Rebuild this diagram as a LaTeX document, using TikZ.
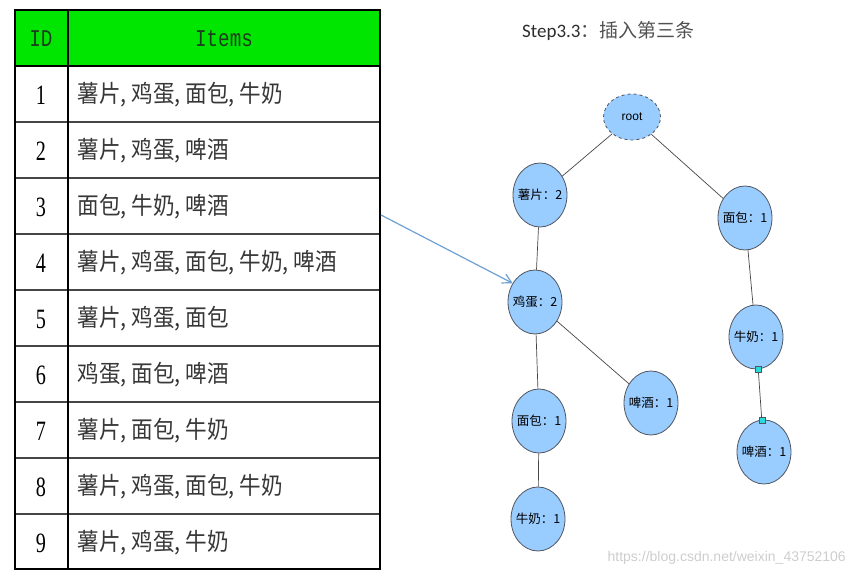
\documentclass[tikz,border=0pt]{standalone}
\usepackage{fontspec}
\usetikzlibrary{shapes.geometric,arrows.meta}
\setmainfont{Liberation Serif}
\newfontfamily\cjk{Noto Sans CJK SC}
\newfontfamily\cjktab[FakeStretch=0.9]{Noto Sans CJK SC}
\newfontfamily\numfont[FakeStretch=0.72]{Liberation Serif}
\newfontfamily\hdrfont[FakeStretch=0.8]{Liberation Mono}
\newfontfamily\titlefont{Carlito}
\newfontfamily\wmfont{Liberation Sans}
\definecolor{hdrgreen}{RGB}{0,230,0}
\definecolor{nodeblue}{RGB}{153,204,255}
\definecolor{nodeedge}{RGB}{80,85,95}
\definecolor{arrowblue}{RGB}{110,160,210}
\definecolor{sqcyan}{RGB}{40,220,220}
\definecolor{rowline}{RGB}{70,70,70}
\definecolor{itemgray}{RGB}{55,55,55}
\tikzset{
  tnode/.style={ellipse, draw=nodeedge, line width=0.8pt, fill=nodeblue,
    minimum width=54pt, minimum height=64pt, inner sep=0pt,
    font=\fontsize{12.5}{14}\cjk},
  rootnode/.style={tnode, dashed, minimum width=57pt, minimum height=46pt,
    font=\fontsize{12}{14}\selectfont\wmfont},
  tedge/.style={draw=rowline, line width=0.7pt},
  sq/.style={rectangle, draw=nodeedge, fill=sqcyan, minimum size=6pt, inner sep=0pt, line width=0.4pt},
  idtxt/.style={font=\fontsize{28}{30}\numfont, anchor=center},
  itemtxt/.style={font=\fontsize{24}{28}\cjktab, anchor=west, text=itemgray},
}
\newcommand{\lab}[1]{\makebox[0pt]{#1}}
\begin{document}
\begin{tikzpicture}[x=1pt,y=-1pt]
\useasboundingbox (0,0) rectangle (855,577);
% table
\fill[hdrgreen] (15,10) rectangle (380,66);
\foreach \yy in {122,178,234,290,346,402,458,514} {
  \draw[rowline, line width=1.6pt] (15,\yy) -- (380,\yy);
}
\draw[black, line width=1.8pt] (15,66) -- (380,66);
\draw[black, line width=1.8pt] (68,10) -- (68,569);
\draw[black, line width=1.8pt] (15,10) rectangle (380,569);
\node[font=\fontsize{24}{26}\hdrfont, text={rgb,255:red,30;green,60;blue,30}] (hid) at (41,39) {ID};
\node[font=\fontsize{24}{26}\hdrfont, text={rgb,255:red,30;green,60;blue,30}] (hitems) at (224,39) {Items};
\node[idtxt] (id1) at (41,95) {1};
\node[idtxt] (id2) at (41,151) {2};
\node[idtxt] (id3) at (41,207) {3};
\node[idtxt] (id4) at (41,263) {4};
\node[idtxt] (id5) at (41,319) {5};
\node[idtxt] (id6) at (41,375) {6};
\node[idtxt] (id7) at (41,431) {7};
\node[idtxt] (id8) at (41,487) {8};
\node[idtxt] (id9) at (41,543) {9};
\node[itemtxt] (it1) at (74,95) {薯片, 鸡蛋, 面包, 牛奶};
\node[itemtxt] (it2) at (74,151) {薯片, 鸡蛋, 啤酒};
\node[itemtxt] (it3) at (74,207) {面包, 牛奶, 啤酒};
\node[itemtxt] (it4) at (74,263) {薯片, 鸡蛋, 面包, 牛奶, 啤酒};
\node[itemtxt] (it5) at (74,319) {薯片, 鸡蛋, 面包};
\node[itemtxt] (it6) at (74,375) {鸡蛋, 面包, 啤酒};
\node[itemtxt] (it7) at (74,431) {薯片, 面包, 牛奶};
\node[itemtxt] (it8) at (74,487) {薯片, 鸡蛋, 面包, 牛奶};
\node[itemtxt] (it9) at (74,543) {薯片, 鸡蛋, 牛奶};
% title
\node[anchor=west, inner sep=0pt] (title) at (522,31)
  {\color[RGB]{45,45,45}\fontsize{19}{21}\titlefont Step3.3\cjk\color[RGB]{80,80,80}：插入第三条};
% tree
\node[rootnode] (root) at (632,117) {\lab{root}};
\node[tnode] (a1) at (540,195) {\lab{薯片：2}};
\node[tnode] (b1) at (745,218) {\lab{面包：1}};
\node[tnode] (a2) at (535,302) {\lab{鸡蛋：2}};
\node[tnode] (b2) at (756,337) {\lab{牛奶：1}};
\node[tnode] (a3) at (651,403) {\lab{啤酒：1}};
\node[tnode] (a4) at (539,421) {\lab{面包：1}};
\node[tnode] (b3) at (764,452) {\lab{啤酒：1}};
\node[tnode] (a5) at (538,519) {\lab{牛奶：1}};
\draw[tedge] (root) -- (a1);
\draw[tedge] (root) -- (b1);
\draw[tedge] (a1) -- (a2);
\draw[tedge] (a2) -- (a3);
\draw[tedge] (a2) -- (a4);
\draw[tedge] (a4) -- (a5);
\draw[tedge] (b1) -- (b2);
\draw[tedge] (b2) -- (b3) node[sq, pos=0] (s1) {} node[sq, pos=1] (s2) {};
% arrow
\coordinate (arrS) at (381,215);
\draw[arrowblue, line width=1.2pt, -{Straight Barb[length=9pt,width=10pt]}] (arrS) -- (a2.140);
% watermark
\node[anchor=east, inner sep=0pt, text={rgb,255:red,205;green,205;blue,205}, font=\fontsize{14}{16}\wmfont] (wm) at (846,558) {https://blog.csdn.net/weixin\_43752106};
\end{tikzpicture}
\end{document}
